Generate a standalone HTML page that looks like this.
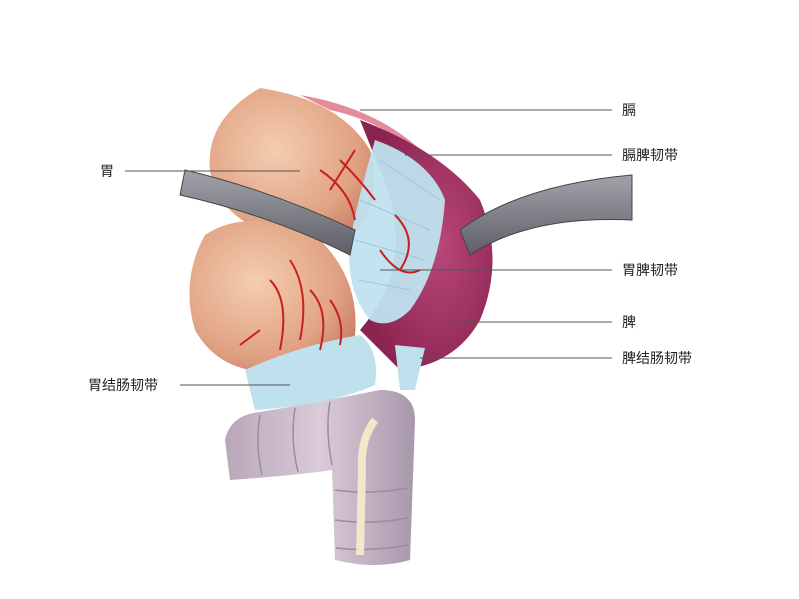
<!DOCTYPE html>
<html><head><meta charset="utf-8"><style>
html,body{margin:0;padding:0;background:#fff;}
svg{display:block;}
text{font-family:"Liberation Sans","Noto Sans CJK SC",sans-serif;font-size:14px;fill:#222;}
</style></head><body>
<svg width="799" height="599" viewBox="0 0 799 599" xmlns="http://www.w3.org/2000/svg">
<defs>
<radialGradient id="st" cx="0.4" cy="0.4" r="0.7"><stop offset="0" stop-color="#f4cdb0"/><stop offset="0.7" stop-color="#e0a283"/><stop offset="1" stop-color="#c97d66"/></radialGradient>
<radialGradient id="sp" cx="0.6" cy="0.5" r="0.6"><stop offset="0" stop-color="#b9477a"/><stop offset="1" stop-color="#8a2350"/></radialGradient>
<linearGradient id="col" x1="0" y1="0" x2="1" y2="0"><stop offset="0" stop-color="#b9a7b9"/><stop offset="0.5" stop-color="#dacbd8"/><stop offset="1" stop-color="#a897ab"/></linearGradient>
<linearGradient id="rt" x1="0" y1="0" x2="0" y2="1"><stop offset="0" stop-color="#a2a2aa"/><stop offset="1" stop-color="#5e5e68"/></linearGradient>
</defs>
<path d="M300,95 Q390,110 440,170 L450,185 Q400,125 330,110 Z" fill="#e58c9c"/>
<path d="M360,120 Q440,150 480,200 Q505,260 480,320 Q455,365 400,370 L360,330 Q420,260 380,170 Z" fill="url(#sp)"/>
<path d="M260,88 Q340,100 370,150 Q385,200 350,240 Q300,250 250,225 Q215,205 210,170 Q205,120 260,88 Z" fill="url(#st)"/>
<path d="M205,235 Q250,205 320,240 Q360,280 355,335 Q340,370 280,372 Q220,375 195,330 Q180,280 205,235 Z" fill="url(#st)"/>
<path d="M375,140 Q430,160 445,200 Q440,270 410,310 Q390,330 370,320 Q345,290 350,240 Q360,190 375,140 Z" fill="#bfe1ee" opacity="0.95"/>
<g stroke="#8fc3d8" stroke-width="1" fill="none" opacity="0.8">
<path d="M360,200 L430,230 M355,240 L425,260 M358,280 L410,290 M380,160 L440,200 M250,380 L360,350 M255,395 L370,370"/>
</g>
<path d="M245,370 Q300,345 360,335 Q380,350 375,385 Q330,405 255,410 Z" fill="#bfe1ee"/>
<path d="M395,345 L425,348 L415,390 L400,390 Z" fill="#bfe1ee"/>
<g stroke="#c8201c" stroke-width="2" fill="none">
<path d="M320,170 Q350,190 355,220 M340,160 Q360,180 375,200 M355,150 L330,190 M395,215 Q420,240 400,270 M380,250 Q400,280 420,270"/>
<path d="M290,260 Q310,290 300,340 M270,280 Q290,300 280,350 M310,290 Q330,310 320,350 M240,345 L260,330 M330,300 Q345,320 340,345"/>
</g>
<path d="M225,440 Q230,415 260,412 Q330,400 380,390 Q415,390 415,420 L410,560 Q375,570 335,560 L332,470 Q300,475 230,480 Z" fill="url(#col)"/>
<g stroke="#9c8aa0" stroke-width="1.5" fill="none">
<path d="M260,415 Q255,445 262,475 M295,408 Q290,440 298,472 M330,402 Q325,430 332,465 M335,490 Q370,495 408,488 M335,520 Q370,525 408,518 M336,548 Q370,552 408,545"/>
</g>
<path d="M375,420 Q360,440 362,470 L360,555" stroke="#f0e8c8" stroke-width="8" fill="none"/>
<path d="M185,170 Q270,190 355,230 L350,255 Q270,215 180,195 Z" fill="url(#rt)" stroke="#444" stroke-width="1"/>
<path d="M460,230 Q520,185 632,175 L632,220 Q530,215 470,255 Z" fill="url(#rt)" stroke="#444" stroke-width="1"/>
<g stroke="#555" stroke-width="1">
<line x1="360" y1="110" x2="612" y2="110"/>
<line x1="405" y1="155" x2="612" y2="155"/>
<line x1="125" y1="171" x2="300" y2="171"/>
<line x1="380" y1="270" x2="612" y2="270"/>
<line x1="450" y1="322" x2="612" y2="322"/>
<line x1="420" y1="358" x2="612" y2="358"/>
<line x1="180" y1="385" x2="290" y2="385"/>
</g>
<text x="622" y="115">膈</text>
<text x="622" y="160">膈脾韧带</text>
<text x="100" y="176">胃</text>
<text x="622" y="275">胃脾韧带</text>
<text x="622" y="327">脾</text>
<text x="622" y="363">脾结肠韧带</text>
<text x="88" y="390">胃结肠韧带</text>
</svg>
</body></html>
